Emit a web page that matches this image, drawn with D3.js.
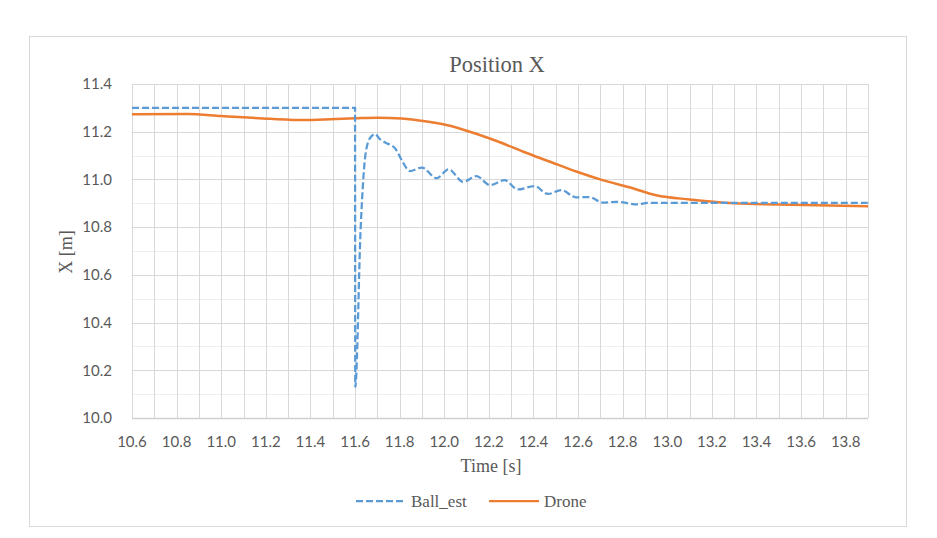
<!DOCTYPE html>
<html>
<head>
<meta charset="utf-8">
<script src="https://cdn.jsdelivr.net/npm/d3@7"></script>
<style>
  body { margin: 0; background: #fff; }
  svg { display: block; }
</style>
</head>
<body>
<svg id="chart"></svg>
<script>
// values
const ballT = [10.6, 11.6, 11.601, 11.625, 11.645, 11.665, 11.69, 11.71, 11.735, 11.78, 11.81, 11.845, 11.9, 11.965, 12.02, 12.085, 12.145, 12.205, 12.27, 12.33, 12.405, 12.465, 12.525, 12.59, 12.65, 12.71, 12.77, 12.87, 12.91, 13.9];
const ballX = [11.3, 11.3, 10.13, 10.79, 11.09, 11.17, 11.19, 11.17, 11.155, 11.13, 11.08, 11.035, 11.05, 11.005, 11.042, 10.99, 11.014, 10.976, 10.997, 10.958, 10.972, 10.939, 10.955, 10.925, 10.926, 10.903, 10.906, 10.895, 10.902, 10.902];

const droneT = [10.6, 10.85, 11.0, 11.22, 11.37, 11.49, 11.6, 11.7, 11.81, 11.905, 12.01, 12.115, 12.235, 12.355, 12.475, 12.595, 12.71, 12.83, 12.95, 13.1, 13.3, 13.5, 13.9];
const droneX = [11.273, 11.274, 11.266, 11.254, 11.249, 11.252, 11.256, 11.259, 11.255, 11.245, 11.228, 11.2, 11.161, 11.116, 11.074, 11.032, 10.997, 10.967, 10.934, 10.916, 10.9, 10.895, 10.888];

const xTickLabels = ["10.6", "10.8", "11.0", "11.2", "11.4", "11.6", "11.8", "12.0", "12.2", "12.4", "12.6", "12.8", "13.0", "13.2", "13.4", "13.6", "13.8"];
const yTickLabels = ["10.0", "10.2", "10.4", "10.6", "10.8", "11.0", "11.2", "11.4"];

const seriesNames = ["Ball_est", "Drone"];
const seriesColors = ["#5B9BD5", "#ED7D31"];

const width = 937, height = 538;
const margin = {left: 132, right: 69, top: 84, bottom: 120};

const svg = d3.select("#chart")
    .attr("width", width)
    .attr("height", height);

// chart frame
svg.append("rect")
    .attr("x", 29.5).attr("y", 36.5)
    .attr("width", 877).attr("height", 490)
    .attr("fill", "#fff")
    .attr("stroke", "#d9d9d9");

const x = d3.scaleLinear().domain([10.6, 13.9]).range([margin.left, width - margin.right]);
const y = d3.scaleLinear().domain([10.0, 11.4]).range([height - margin.bottom, margin.top]);

const grid = svg.append("g");

// minor horizontal grid (0.1)
grid.selectAll(".hminor")
    .data(d3.range(1, 14, 2).map(i => 10 + i / 10))
    .enter().append("line")
    .attr("x1", x(10.6)).attr("x2", x(13.9))
    .attr("y1", d => Math.round(y(d)) + 0.5)
    .attr("y2", d => Math.round(y(d)) + 0.5)
    .attr("stroke", "#efefef");

// major horizontal grid (0.2)
grid.selectAll(".hmajor")
    .data(yTickLabels.map(Number))
    .enter().append("line")
    .attr("x1", x(10.6)).attr("x2", x(13.9))
    .attr("y1", d => Math.round(y(d)) + 0.5)
    .attr("y2", d => Math.round(y(d)) + 0.5)
    .attr("stroke", "#d9d9d9");

// vertical grid (0.1)
grid.selectAll(".v")
    .data(d3.range(106, 140).map(i => i / 10))
    .enter().append("line")
    .attr("y1", y(11.4)).attr("y2", y(10.0))
    .attr("x1", d => Math.round(x(d)) + 0.5)
    .attr("x2", d => Math.round(x(d)) + 0.5)
    .attr("stroke", "#d9d9d9");

// bottom axis line
svg.append("line")
    .attr("x1", x(10.6)).attr("x2", x(13.9))
    .attr("y1", y(10) + 0.5).attr("y2", y(10) + 0.5)
    .attr("stroke", "#d0d0d0")
    .attr("stroke-width", 1.5);

// tick labels
const tickFont = "Lato, 'Liberation Sans', sans-serif";
svg.append("g").selectAll("text")
    .data(yTickLabels)
    .enter().append("text")
    .attr("x", 112)
    .attr("y", d => y(+d))
    .attr("dy", "0.35em")
    .attr("text-anchor", "end")
    .attr("font-family", tickFont)
    .attr("font-size", 15)
    .attr("fill", "#595959")
    .text(d => d);

svg.append("g").selectAll("text")
    .data(xTickLabels)
    .enter().append("text")
    .attr("x", d => x(+d))
    .attr("y", 442)
    .attr("dy", "0.35em")
    .attr("text-anchor", "middle")
    .attr("font-family", tickFont)
    .attr("font-size", 15)
    .attr("fill", "#595959")
    .text(d => d);

// titles
const serif = "'Liberation Serif', 'Times New Roman', serif";
svg.append("text")
    .attr("x", 497).attr("y", 72)
    .attr("text-anchor", "middle")
    .attr("font-family", serif)
    .attr("font-size", 22.5)
    .attr("fill", "#595959")
    .text("Position X");

svg.append("text")
    .attr("x", 491).attr("y", 472)
    .attr("text-anchor", "middle")
    .attr("font-family", serif)
    .attr("font-size", 18)
    .attr("fill", "#595959")
    .text("Time [s]");

svg.append("text")
    .attr("transform", "translate(72,252) rotate(-90)")
    .attr("text-anchor", "middle")
    .attr("font-family", serif)
    .attr("font-size", 18)
    .attr("fill", "#595959")
    .text("X [m]");

// series
const line = d3.line()
    .x(d => x(d[0]))
    .y(d => y(d[1]))
    .curve(d3.curveMonotoneX);

const ballData = ballT.map((t, i) => [t, ballX[i]]);
const droneData = droneT.map((t, i) => [t, droneX[i]]);

svg.append("path")
    .datum(droneData)
    .attr("d", line)
    .attr("fill", "none")
    .attr("stroke", seriesColors[1])
    .attr("stroke-width", 2.5);

svg.append("path")
    .datum(ballData)
    .attr("d", line)
    .attr("fill", "none")
    .attr("stroke", seriesColors[0])
    .attr("stroke-width", 2.25)
    .attr("stroke-dasharray", "7,3");

// legend
const legend = svg.append("g").attr("transform", "translate(0,501)");
const legendPos = [356, 489];
seriesNames.forEach(function (name, i) {
    legend.append("line")
        .attr("x1", legendPos[i]).attr("x2", legendPos[i] + 50)
        .attr("y1", 0).attr("y2", 0)
        .attr("stroke", seriesColors[i])
        .attr("stroke-width", 2.25)
        .attr("stroke-dasharray", i === 0 ? "7,3" : null);
    legend.append("text")
        .attr("x", legendPos[i] + 55)
        .attr("y", 0)
        .attr("dy", "0.35em")
        .attr("font-family", serif)
        .attr("font-size", 17)
        .attr("fill", "#595959")
        .text(name);
});
</script>
</body>
</html>
